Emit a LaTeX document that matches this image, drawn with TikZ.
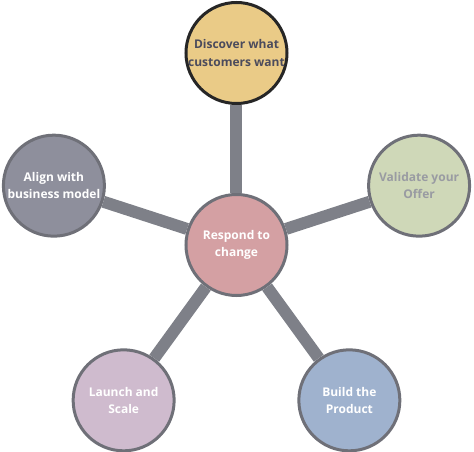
\documentclass[tikz,border=0pt]{standalone}
\usepackage{fontspec}
\setsansfont{Open Sans}
\usetikzlibrary{positioning}

\definecolor{spokegray}{HTML}{7E8088}
\definecolor{rimgray}{HTML}{6F7078}
\definecolor{discoverfill}{HTML}{EACB87}
\definecolor{discovertext}{HTML}{4B4B5C}
\definecolor{validatetext}{HTML}{999BA2}
\definecolor{hubfill}{HTML}{D4A0A3}
\definecolor{alignfill}{HTML}{8E8F9C}
\definecolor{validatefill}{HTML}{CFD8B8}
\definecolor{launchfill}{HTML}{CFBBCE}
\definecolor{buildfill}{HTML}{9FB2CE}

\begin{document}
\begin{tikzpicture}[x=1pt, y=1pt,
            % Styles
            stage/.style={circle, draw=rimgray, line width=3pt, minimum size=101pt, inner sep=0pt, align=center, text=white, font=\sffamily\bfseries\fontsize{12}{17.5}\selectfont},
            spoke/.style={draw=spokegray, line width=12pt}
        ]
        \useasboundingbox (-236.5,-207) rectangle (237.5,245);

        % Nodes
        \node [stage, fill=hubfill] (hub) at (0,0) {Respond to\\change};

        \node [stage, fill=discoverfill, draw=black!85, text=discovertext] (discover) at (90:192) {Discover what\\customers want};

        \node [stage, fill=validatefill, text=validatetext] (validate) at (18:192) {Validate your\\Offer};

        \node [stage, fill=buildfill] (build) at (-54:192) {Build the\\Product};

        \node [stage, fill=launchfill] (launch) at (234:192) {Launch and\\Scale};

        \node [stage, fill=alignfill] (align) at (162:192) {Align with\\business model};

        % Edges
        \foreach \stagename in {discover, validate, build, launch, align}
            \path [spoke] (hub) -- (\stagename);

    \end{tikzpicture}
\end{document}
